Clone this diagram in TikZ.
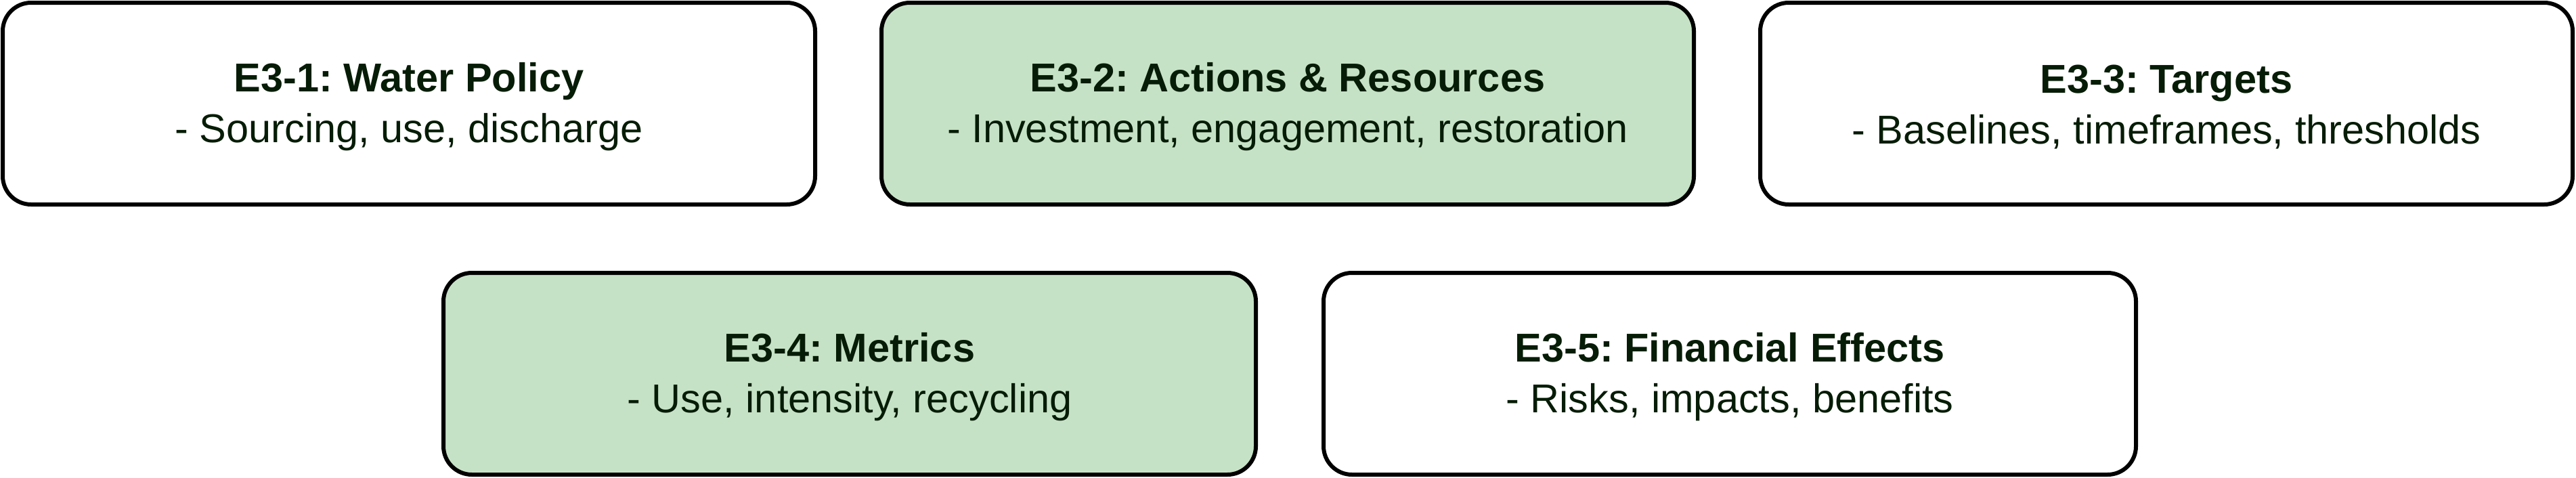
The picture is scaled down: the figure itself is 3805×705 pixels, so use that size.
\documentclass[tikz,border=0pt]{standalone}
\usepackage{fontspec}
\setmainfont{Liberation Sans}
\frenchspacing
\definecolor{boxgreen}{RGB}{198,226,198}
\definecolor{txtdark}{RGB}{6,28,6}
\tikzset{
  card/.style={draw=black, line width=6pt, rounded corners=42pt,
    minimum width=1200pt, minimum height=298pt, inner sep=0pt},
  plaincard/.style={card, fill=white},
  greencard/.style={card, fill=boxgreen},
  cardtext/.style={inner sep=0pt, align=center, text=txtdark,
    font=\fontsize{59.5}{75}\selectfont, yshift=-5pt}
}
\begin{document}
\begin{tikzpicture}[x=1pt,y=-1pt]
\useasboundingbox (0,0) rectangle (3805,705);
\node[plaincard] (e31) at (604,153) {};
\node[greencard] (e32) at (1902,153) {};
\node[plaincard] (e33) at (3200,153) {};
\node[greencard] (e34) at (1255,552) {};
\node[plaincard] (e35) at (2555,552) {};
\node[cardtext] (t31) at (e31.center) {\textbf{E3-1: Water Policy}\\- Sourcing, use, discharge};
\node[cardtext] (t32) at (e32.center) {\textbf{E3-2: Actions \& Resources}\\- Investment, engagement, restoration};
\node[cardtext] (t33) at (e33.center) {\textbf{E3-3: Targets}\\- Baselines, timeframes, thresholds};
\node[cardtext] (t34) at (e34.center) {\textbf{E3-4: Metrics}\\- Use, intensity, recycling};
\node[cardtext] (t35) at (e35.center) {\textbf{E3-5: Financial Effects}\\- Risks, impacts, benefits};
\end{tikzpicture}
\end{document}
